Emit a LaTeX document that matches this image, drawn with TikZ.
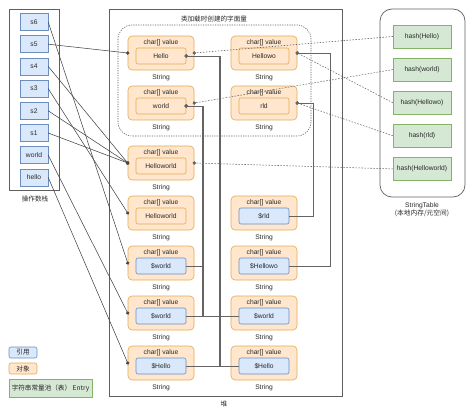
\documentclass[tikz,border=0pt]{standalone}
\usepackage{fontspec}
\setmainfont{Liberation Sans}
\newfontfamily\cjk{Noto Sans CJK SC}
\usetikzlibrary{arrows.meta}
\definecolor{reffill}{RGB}{218,232,252}
\definecolor{refline}{RGB}{108,142,191}
\definecolor{objfill}{RGB}{255,230,204}
\definecolor{objline}{RGB}{228,170,80}
\definecolor{entfill}{RGB}{213,232,212}
\definecolor{entline}{RGB}{130,179,102}
\definecolor{framegray}{RGB}{95,95,95}
\definecolor{linkgray}{RGB}{70,70,70}
\definecolor{fieldgray}{RGB}{100,100,100}
\definecolor{txtgray}{RGB}{40,40,40}

\tikzset{
  txt/.style={font=\fontsize{6.7}{8.5}\selectfont, text=txtgray, inner sep=0pt},
  cjktxt/.style={font=\fontsize{6.6}{8.5}\selectfont\cjk, text=txtgray, inner sep=0pt},
  frame/.style={draw=framegray, line width=0.7pt},
  group/.style={draw=framegray, line width=0.6pt, dash pattern=on 1.2pt off 1.2pt, rounded corners=14pt},
  cell/.style={txt, draw=refline, fill=reffill, minimum width=28pt, minimum height=17pt},
  objbox/.style={draw=objline, fill=objfill, rounded corners=4pt, line width=0.6pt, minimum width=66pt, minimum height=34pt},
  litbox/.style={txt, draw=objline, fill=objfill, rounded corners=2pt, line width=0.6pt, minimum width=50pt, minimum height=16pt},
  refbox/.style={txt, draw=refline, fill=reffill, rounded corners=2pt, line width=0.6pt, minimum width=50pt, minimum height=16pt},
  entry/.style={txt, draw=entline, fill=entfill, minimum width=58pt, minimum height=23pt},
  link/.style={draw=linkgray, line width=0.55pt, -{Circle[length=3.4pt]}, shorten >=-1.7pt},
  field/.style={link, draw=fieldgray, line width=0.7pt},
  dlink/.style={link, draw=fieldgray, dash pattern=on 1.5pt off 1.5pt}
}

\begin{document}
\begin{tikzpicture}[x=1pt, y=-1pt]
  \useasboundingbox (0,0) rectangle (474,417);

  % Frames
  \draw[frame] (9,9) rectangle (59,190);
  \draw[frame] (109,9) rectangle (342,396);
  \draw[frame, rounded corners=12pt] (380,9) rectangle (465,197);
  \draw[group] (118,25) rectangle (311,136);

  % Frame labels
  \node[cjktxt] (stacklbl) at (35,199) {操作数栈};
  \node[cjktxt] (heaplbl) at (224,404) {堆};
  \node[cjktxt] (grouplbl) at (214,19) {类加载时创建的字面量};
  \node[txt, align=center] (tablelbl) at (422,209.5) {StringTable\\{\cjk (本地内存/元空间)}};

  % Operand stack
  \foreach \n [count=\i from 0] in {s6,s5,s4,s3,s2,s1,world,hello}
    \node[cell] (\n) at (34,22+22.2*\i) {\n};

  % String objects
  \foreach \n/\x/\y/\val/\kind in {L1/161/53/Hello/litbox, L2/161/103/world/litbox,
      L3/161/163/Helloworld/litbox, L4/161/213/Helloworld/litbox, L5/161/263/\$world/refbox,
      L6/161/313/\$world/refbox, L7/161/363/\$Hello/refbox, R1/264/53/Hellowo/litbox,
      R2/264/103/rld/litbox, R4/264/213/\$rld/refbox, R5/264/263/\$Hellowo/refbox,
      R6/264/313/\$world/refbox, R7/264/363/\$Hello/refbox}{
    \node[objbox] (\n) at (\x,\y) {};
    \node[txt] (\n-t) at (\x,\y-10.5) {char[] value};
    \node[\kind] (\n-v) at (\x,\y+3) {\val};
    \node[txt] (\n-s) at (\x,\y+24.5) {String};
  }

  % StringTable entries
  \foreach \t [count=\i from 0] in {Hello,world,Hellowo,rld,Helloworld}
    \node[entry] (h\t) at (422,36.5+33.1*\i) {hash(\t)};

  % Legend
  \node[refbox, cjktxt, minimum width=28pt, minimum height=11pt] (legref) at (23,352.5) {引用};
  \node[litbox, cjktxt, minimum width=28pt, minimum height=11pt] (legobj) at (23,368.5) {对象};
  \node[entry, cjktxt, minimum width=83pt, minimum height=18pt] (legent) at (50.5,388) {字符串常量池（表） Entry};

  % Stack references
  \foreach \s/\o in {s5/L1,s4/L3,s2/L3,s1/L3,s3/L4,s6/L5,world/L6,hello/L7}
    \draw[link] (\s.east) -- (\o.west);

  % value fields
  \draw[field] (L7-v.east) -- ++(34,0) |- (L1-v.east);
  \draw[field] (R7-v.west) -- ++(-19,0) |- (L1-v.east);
  \draw[field] (L5-v.east) -- ++(17,0) |- (L2-v.east);
  \draw[field] (L6-v.east) -- ++(17,0) |- (L2-v.east);
  \draw[field] (R6-v.west) -- ++(-36,0) |- (L2-v.east);
  \draw[field] (R5-v.east) -- ++(41,0) |- (R1.east);
  \draw[field] (R4-v.east) -- ++(24,0) |- (R2.east);

  % StringTable links
  \foreach \t/\o in {Hello/L1,world/L2,Hellowo/R1,rld/R2,Helloworld/L3}
    \draw[dlink] (h\t.west) -- (\o.east);
\end{tikzpicture}
\end{document}
